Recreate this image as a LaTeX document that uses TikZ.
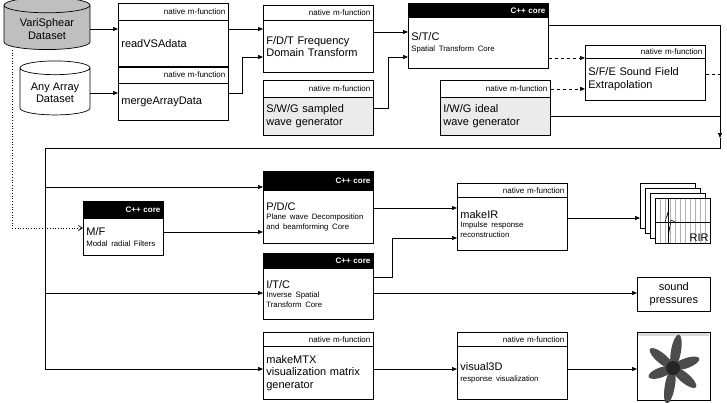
\documentclass[tikz,border=0pt]{standalone}
\usepackage{fontspec}
\setmainfont{Liberation Sans}
\usetikzlibrary{shapes.geometric, positioning, arrows.meta}
\tikzstyle{hd} = [rectangle, draw, anchor=north west, align=right, text depth=0pt, font=\fontsize{8}{9}\selectfont, inner sep=1.5pt]
\tikzstyle{hdc} = [hd, fill=black, text=white, font=\bfseries\fontsize{8}{9}\selectfont]
\tikzstyle{bd} = [rectangle, draw, anchor=north west, align=left, inner sep=3pt, font={\hyphenpenalty=10000\relax\fontsize{11}{12.5}\selectfont}]
\tikzstyle{cyl} = [cylinder, draw, shape border rotate=90, aspect=0.25, align=center, font=\fontsize{11}{12.5}\selectfont]
\tikzstyle{ar} = [-{Triangle[length=5pt,width=4pt]}]
\newcommand{\sub}{\\[-1pt]\fontsize{7.8}{10}\selectfont}
\begin{document}
\begin{tikzpicture}[x=1pt, y=-1pt, line width=0.7pt]
	\useasboundingbox (0,0) rectangle (727,402);
	% data sets
	\node [cyl, fill=black!25, minimum width=86, minimum height=52] (vs) at (47,29) {VariSphear\\Dataset};
	\node [cyl, minimum width=70, minimum height=54] (aa) at (55,93) {Any Array\\Dataset};
	% upper row
	\node [hd, minimum width=110, minimum height=17, text width=104] (rvsh) at (118,3) {native m-function};
	\node [bd, minimum width=110, minimum height=47, text width=104] (rvs) at (118,20) {readVSAdata};
	\node [hd, minimum width=110, minimum height=17, text width=104] (madh) at (118,66) {native m-function};
	\node [bd, minimum width=110, minimum height=37, text width=104] (mad) at (118,83) {mergeArrayData};
	\node [hd, minimum width=110, minimum height=15, text width=104] (fdth) at (263,5) {native m-function};
	\node [bd, minimum width=110, minimum height=52, text width=104] (fdt) at (263,20) {F/D/T Frequency\\Domain Transform};
	\node [hd, minimum width=110, minimum height=17, text width=104] (swgh) at (263,80) {native m-function};
	\node [bd, minimum width=110, minimum height=38, text width=104, fill=black!8] (swg) at (263,97) {S/W/G sampled\\wave generator};
	\node [hdc, minimum width=140, minimum height=14, text width=134] (stch) at (408,3) {C++ core};
	\node [bd, minimum width=140, minimum height=51, text width=134] (stc) at (408,17) {S/T/C\sub Spatial Transform Core};
	\node [hd, minimum width=120, minimum height=13, text width=114] (sfeh) at (585,45) {native m-function};
	\node [bd, minimum width=120, minimum height=42, text width=114] (sfe) at (585,58) {S/F/E Sound Field\\Extrapolation};
	\node [hd, minimum width=110, minimum height=17, text width=104] (iwgh) at (440,80) {native m-function};
	\node [bd, minimum width=110, minimum height=38, text width=104, fill=black!8] (iwg) at (440,97) {I/W/G ideal\\wave generator};
	% lower part
	\node [hdc, minimum width=80, minimum height=17, text width=74] (mfh) at (83,201) {C++ core};
	\node [bd, minimum width=80, minimum height=37, text width=74] (mf) at (83,218) {M/F\sub Modal radial Filters};
	\node [hdc, minimum width=110, minimum height=19, text width=104] (pdch) at (263,171) {C++ core};
	\node [bd, minimum width=110, minimum height=53, text width=104] (pdc) at (263,190) {P/D/C\sub Plane wave Decomposition\\[-2pt]and beamforming Core};
	\node [hd, minimum width=110, minimum height=14, text width=104] (mirh) at (457,183) {native m-function};
	\node [bd, minimum width=110, minimum height=53, text width=104] (mir) at (457,197) {makeIR\sub Impulse response\\[-2pt]reconstruction};
	\node [hdc, minimum width=110, minimum height=15, text width=104] (itch) at (263,253) {C++ core};
	\node [bd, minimum width=110, minimum height=51, text width=104] (itc) at (263,268) {I/T/C\sub Inverse Spatial\\[-2pt]Transform Core};
	\node [bd, minimum width=73, minimum height=34, align=center] (sp) at (637,277) {sound\\pressures};
	\node [hd, minimum width=110, minimum height=14, text width=104] (mtxh) at (263,332) {native m-function};
	\node [bd, minimum width=110, minimum height=53, text width=104] (mtx) at (263,346) {makeMTX\\visualization matrix\\generator};
	\node [hd, minimum width=110, minimum height=14, text width=104] (v3dh) at (457,332) {native m-function};
	\node [bd, minimum width=110, minimum height=53, text width=104] (v3d) at (457,346) {visual3D\sub response visualization};
	% RIR plots
	\foreach \i in {0,...,3} {
		\draw [line width=0.4pt, fill=white] (640+5*\i,183+5*\i) rectangle (695+5*\i,228+5*\i);
	}
	\draw [step=5, line width=0.2pt, black!30] (655,198) grid (710,243);
	\draw [line width=0.4pt] (655,198) rectangle (710,243);
	\draw [line width=0.4pt] (655,222) -- (710,222) (668,198) -- (668,243);
	\draw [line width=0.5pt] (665,222) -- (668,212) -- (669,232) -- (671,220) -- (675,222);
	\node [font=\fontsize{11}{12}\selectfont, anchor=south east, inner sep=1pt] (rir) at (710,243) {RIR};
	\coordinate (rirw) at (640,218);
	% balloon plot
	\draw [line width=0.4pt, fill=white] (637,332) rectangle (710,400);
	\fill [black!15] (638,333) rectangle (709,336);
	\foreach \a/\r in {20/14, 80/17, 140/15, 200/13, 260/18, 320/15} {
		\fill [black!70, rotate around={\a:(673,368)}] (673,368) ++(\r,0) ellipse ({\r} and 5);
	}
	\fill [black!85] (673,368) circle (7);
	\coordinate (balw) at (637,369);
	% connectors upper part
	\draw [ar] (vs.east) -- (vs.east -| rvs.west);
	\draw [ar] (aa.east) -- (aa.east -| mad.west);
	\draw [ar] (rvs.east |- vs.east) -- (fdt.west |- vs.east);
	\draw [ar] (mad.east |- aa.east) -| (242,57) -- (fdt.west |- 0,57);
	\draw [ar] (fdt.east |- 0,32) -- (stc.west |- 0,32);
	\draw [ar] (swg.east |- 0,108) -| (388,57) -- (stc.west |- 0,57);
	\draw [ar, dashed] (stc.east |- sfe.north) -- (sfe.west |- sfe.north);
	\draw [ar, dashed] (iwgh.east) -- (iwgh.east -| sfe.west);
	\coordinate (rt) at (720,25);
	\coordinate (rb) at (720,148);
	\coordinate (lt) at (45,148);
	\coordinate (lb) at (45,369);
	\draw [dashed] (sfe.east |- 0,74) -- (720,74);
	\draw (stc.east |- rt) -- (rt);
	\draw (iwg.east |- 0,116) -- (720,116);
	\draw [ar] (rt) -- (720,138);
	\draw (720,138) -- (rb) -- (lt) -- (lb);
	% connectors lower part
	\draw [ar] (45,187) -- (pdc.west |- 0,187);
	\draw [ar] (mf.east |- 0,232) -- (pdc.west |- 0,232);
	\draw [ar] (45,293) -- (itc.west |- 0,293);
	\draw [ar] (lb) -- (mtx.west |- lb);
	\draw [-{Straight Barb[length=4pt,width=5pt]}, dotted] (vs.south -| 12,0) |- (mf.west |- 0,228);
	\draw [ar] (pdc.east |- 0,208) -- (mir.west |- 0,208);
	\draw [ar] (itc.east |- 0,277) -| (392,238) -- (mir.west |- 0,238);
	\draw [ar] (itc.east |- 0,293) -- (sp.west |- 0,293);
	\draw [ar] (mir.east |- rirw) -- (rirw);
	\draw [ar] (mtx.east |- lb) -- (v3d.west |- lb);
	\draw [ar] (v3d.east |- balw) -- (balw);
\end{tikzpicture}
\end{document}
